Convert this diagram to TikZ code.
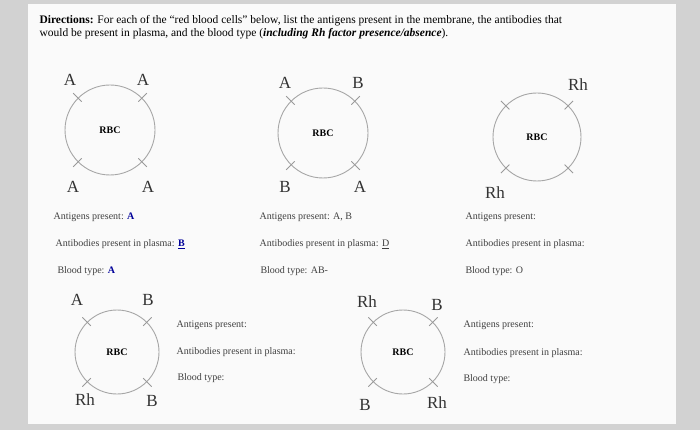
\documentclass[tikz,border=0pt]{standalone}
\usepackage{fontspec}
\setmainfont{Liberation Serif}
\usetikzlibrary{calc}
\begin{document}
\begin{tikzpicture}[x=1pt,y=-1pt,
  cell/.style={circle,draw=gray!70,line width=0.9pt,minimum size=#1,inner sep=0pt,font=\bfseries\fontsize{10}{11}\selectfont},
  ag/.style={font=\fontsize{17}{18}\selectfont,text=black!80},
  info/.style={anchor=west,font=\fontsize{10}{11}\selectfont,text=black!75},
  tick/.style={draw=gray!80,line width=0.8pt}]
\fill[gray!35] (0,0) rectangle (700,430);
\fill[gray!4] (28,4) rectangle (676,424);
\node[anchor=west,font=\fontsize{11.5}{13}\selectfont,align=left] (dir) at (36,27) {\textbf{Directions:} For each of the ``red blood cells'' below, list the antigens present in the membrane, the antibodies that\\would be present in plasma, and the blood type (\textbf{\textit{including Rh factor presence/absence}}).};
% cells
\node[cell=90pt] (c1) at (110,130) {RBC};
\node[cell=90pt] (c2) at (323,133) {RBC};
\node[cell=88pt] (c3) at (537,137) {RBC};
\node[cell=84pt] (c4) at (117,352) {RBC};
\node[cell=84pt] (c5) at (403,352) {RBC};
\foreach \c/\r in {c1/45,c2/45,c3/44,c4/42,c5/42}{
  \foreach \a in {45,135,225,315}{
    \draw[tick] ($(\c.center)+(\a:\r-5)$) -- ($(\c.center)+(\a:\r+7)$);
  }}
\node[ag] (a1) at (70,80) {A}; \node[ag] (a2) at (143,80) {A};
\node[ag] (a3) at (73,187) {A}; \node[ag] (a4) at (148,187) {A};
\node[ag] (b1) at (285,83) {A}; \node[ag] (b2) at (358,83) {B};
\node[ag] (b3) at (285,187) {B}; \node[ag] (b4) at (360,187) {A};
\node[ag] (r1) at (578,85) {Rh}; \node[ag] (r2) at (495,193) {Rh};
\node[ag] (d1) at (77,300) {A}; \node[ag] (d2) at (148,300) {B};
\node[ag] (d3) at (85,400) {Rh}; \node[ag] (d4) at (152,401) {B};
\node[ag] (e1) at (367,302) {Rh}; \node[ag] (e2) at (437,305) {B};
\node[ag] (e3) at (365,405) {B}; \node[ag] (e4) at (437,403) {Rh};
% info
\node[info] (i11) at (50,217) {Antigens present: \textcolor{blue!60!black}{\textbf{A}}};
\node[info] (i12) at (52,244) {Antibodies present in plasma: \textcolor{blue!60!black}{\textbf{\underline{B}}}};
\node[info] (i13) at (54,271) {Blood type: \textcolor{blue!60!black}{\textbf{A}}};
\node[info] (i21) at (256,217) {Antigens present: A, B};
\node[info] (i22) at (256,244) {Antibodies present in plasma: \underline{D}};
\node[info] (i23) at (257,271) {Blood type: AB-};
\node[info] (i31) at (462,217) {Antigens present:};
\node[info] (i32) at (462,244) {Antibodies present in plasma:};
\node[info] (i33) at (462,271) {Blood type: O};
\node[info] (i41) at (173,325) {Antigens present:};
\node[info] (i42) at (173,352) {Antibodies present in plasma:};
\node[info] (i43) at (174,378) {Blood type:};
\node[info] (i51) at (460,325) {Antigens present:};
\node[info] (i52) at (460,353) {Antibodies present in plasma:};
\node[info] (i53) at (460,379) {Blood type:};
\end{tikzpicture}
\end{document}
